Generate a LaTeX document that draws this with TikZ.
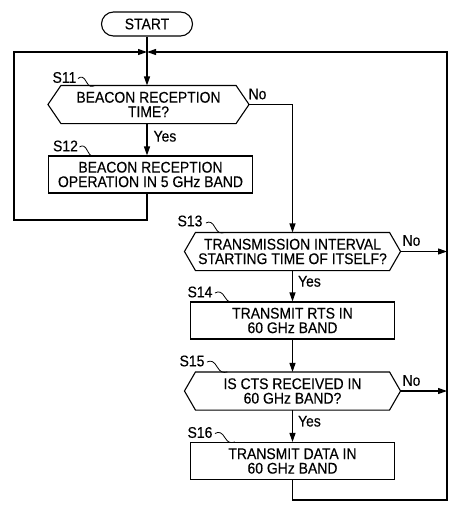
\documentclass[tikz,border=0pt]{standalone}
\usepackage{fontspec}
\setmainfont{Liberation Sans}[FakeStretch=0.9,FakeBold=0.3]
\usetikzlibrary{arrows.meta,calc}
\newcommand\hexoutline[2]{\draw (#1.west) -- ([xshift=#2]#1.north west) -- ([xshift=-#2]#1.north east) -- (#1.east) -- ([xshift=-#2]#1.south east) -- ([xshift=#2]#1.south west) -- cycle;}
\newcommand\squig[2]{\draw[line width=0.8pt] (#1) .. controls ($(#1)!0.2!(#2)+(0,-4)$) and ($(#1)!0.35!(#2)+(0,-4)$) .. ($(#1)!0.5!(#2)$) .. controls ($(#1)!0.65!(#2)+(0,4)$) and ($(#1)!0.8!(#2)+(0,3)$) .. (#2);}
\begin{document}
\begin{tikzpicture}[x=1pt,y=-1pt,line width=1.1pt,
  every node/.style={font=\fontsize{15.5}{14.5}\selectfont,inner sep=0pt,align=center},
  proc/.style={draw,rectangle,minimum height=37pt},
  dec/.style={rectangle,minimum height=37pt},
  arr/.style={-{Triangle[length=9pt,width=6pt]}}]
\useasboundingbox[fill=white] (0,0) rectangle (474,527);
% nodes
\node[draw,rounded corners=12pt,minimum width=91pt,minimum height=24pt] (start) at (147,24) {START};
\coordinate (m) at (147,52);
\node[dec,minimum width=200pt] (s11) at (148.5,104.5) {BEACON RECEPTION\\TIME?};
\hexoutline{s11}{13pt}
\node[proc,minimum width=204pt] (s12) at (150.5,174.5) {BEACON RECEPTION\\OPERATION IN 5 GHz BAND};
\node[dec,minimum width=215pt] (s13) at (292.5,251.5) {TRANSMISSION INTERVAL\\STARTING TIME OF ITSELF?};
\hexoutline{s13}{11pt}
\node[proc,minimum width=204pt] (s14) at (292.5,320.5) {TRANSMIT RTS IN\\60 GHz BAND};
\node[dec,minimum width=215pt] (s15) at (292.5,391) {IS CTS RECEIVED IN\\60 GHz BAND?};
\hexoutline{s15}{11pt}
\node[proc,minimum width=204pt] (s16) at (292.5,461) {TRANSMIT DATA IN\\60 GHz BAND};
% step labels
\node (l11) at (64.5,77.5) {S11};
\node (l12) at (65.5,146) {S12};
\node (l13) at (190,221) {S13};
\node (l14) at (200,292) {S14};
\node (l15) at (192,361) {S15};
\node (l16) at (200,432.5) {S16};
\squig{$(l11.east)+(1,1)$}{$(s11.north west)+(47,0)$}
\squig{$(l12.east)+(1,1)$}{$(s12.north west)+(48,0)$}
\squig{$(l13.east)+(3,2)$}{$(s13.north west)+(40,0)$}
\squig{$(l14.east)+(2,1)$}{$(s14.north west)+(45,0)$}
\squig{$(l15.east)+(2,1)$}{$(s15.north west)+(43,0)$}
\squig{$(l16.east)+(2,1)$}{$(s16.north west)+(45,0)$}
% loop coordinates
\coordinate (ll) at (14,220);
\coordinate (lt) at (14,52);
\coordinate (rb) at (447,500);
\coordinate (rt) at (447,52);
% connectors
\draw[arr] (start.south) -- (start.south |- s11.north);
\draw[arr] (s11.south -| start) -- node[pos=0.4,right=6pt] {Yes} (s12.north -| start);
\draw[arr] (s12.south -| start) |- (ll) -- (lt) -- (m);
\draw[arr] (s16.south) |- (rb) -- (rt) -- (m);
\draw[arr] (s11.east) -| (s13.north);
\draw[arr] (s13.south) -- node[pos=0.35,right=5pt] {Yes} (s14.north);
\draw[arr] (s14.south) -- (s15.north);
\draw[arr] (s15.south) -- node[pos=0.35,right=5pt] {Yes} (s16.north);
\draw[arr] (s13.east) -- (s13.east -| rb);
\draw[arr] (s15.east) -- (s15.east -| rb);
% No labels
\node at (257.5,94) {No};
\node at (411.5,240.5) {No};
\node at (411.5,380.5) {No};
\end{tikzpicture}
\end{document}
